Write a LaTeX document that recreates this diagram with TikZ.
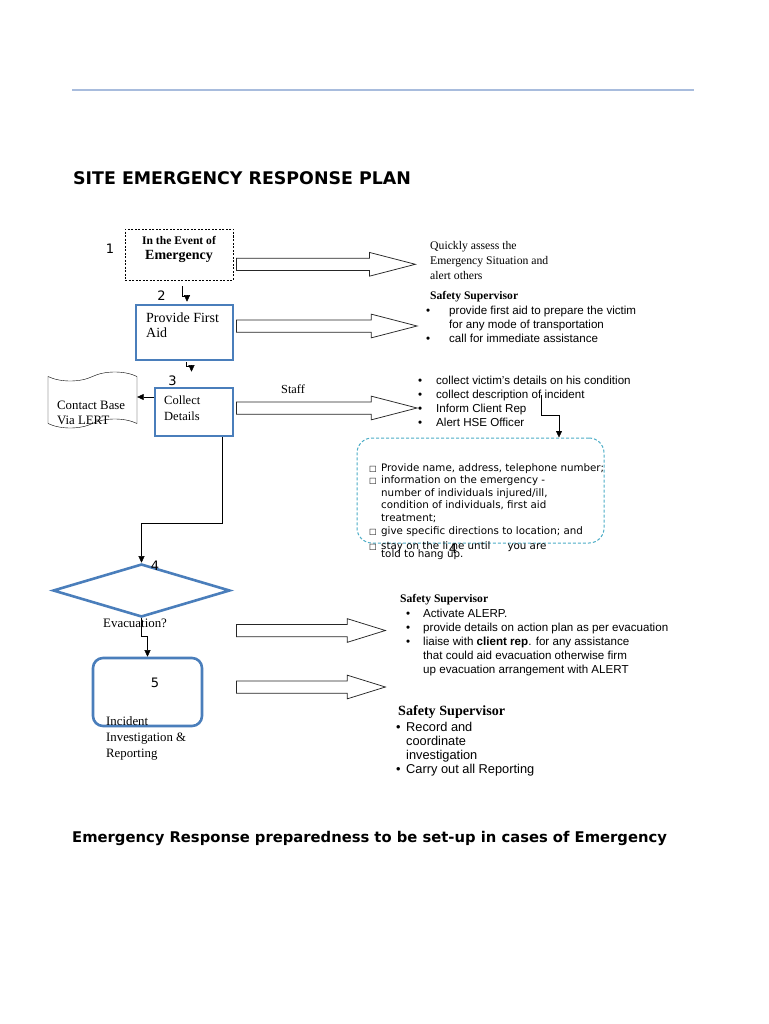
\documentclass[tikz,border=0pt]{standalone}
\usepackage{fontspec}
\setmainfont{Liberation Serif}
\setsansfont{Liberation Sans}
\newfontfamily\dejavu{DejaVu Sans}
\usetikzlibrary{arrows.meta}
\usetikzlibrary{shapes.geometric, shapes.symbols, shapes.arrows, positioning}
\definecolor{stepblue}{HTML}{4A7EBB}
\definecolor{notecyan}{HTML}{4BACC6}
\definecolor{ruleblue}{HTML}{A8BCDD}
\tikzset{
    stepbox/.style={draw=stepblue, line width=2.6pt, inner sep=0pt},
    fatarrow/.style={single arrow, draw=black!85, line width=0.75pt, fill=white, inner xsep=0pt, inner ysep=5.75pt,
        minimum width=23pt, single arrow head extend=5.75pt, single arrow head indent=0pt, anchor=tail},
    txt/.style={inner sep=0pt, anchor=base west},
    num/.style={inner sep=0pt, anchor=base, font=\dejavu\fontsize{13}{15}\selectfont},
}
\newcommand{\bul}[1]{\makebox[#1][l]{\textbullet}}
\newcommand{\sq}{\makebox[12pt][l]{\fontsize{8}{8}\selectfont □}}

\begin{document}
\begin{tikzpicture}[x=1pt, y=-1pt, >={Stealth[inset=0pt, length=6.5pt, width=6pt]}]
\useasboundingbox (0,0) rectangle (768,1024);

            % Header rule and title
            \draw[ruleblue, line width=1.5pt] (72,90) -- (694,90);
            \node[txt, font=\dejavu\bfseries\fontsize{17.4}{20}\selectfont] (title) at (73,185) {SITE EMERGENCY RESPONSE PLAN};

            % Step 1
            \node[draw, thin, dash pattern=on 2pt off 1.5pt, minimum width=108pt, minimum height=51pt, inner sep=0pt] (event) at (179,254.5) {};
            \node[inner sep=0pt, anchor=base, font=\bfseries\fontsize{11.6}{13}\selectfont] (eventa) at (179,244) {In the Event of};
            \node[inner sep=0pt, anchor=base, font=\bfseries\fontsize{14}{16}\selectfont] (eventb) at (179,259.5) {Emergency};
            \node[num] (one) at (110,253.5) {1};

            % Step 2
            \node[stepbox, minimum width=97pt, minimum height=55pt] (aid) at (184.5,332.5) {};
            \node[txt, font=\fontsize{14}{15}\selectfont] (aidtxt) at (146,322) {\begin{tabular}[t]{@{}l@{}}Provide First\\Aid\end{tabular}};
            \node[num] (two) at (161.5,300.5) {2};

            % Step 3
            \node[stepbox, minimum width=78pt, minimum height=48pt] (collect) at (194,412) {};
            \node[txt, font=\fontsize{12.5}{16}\selectfont] (collecttxt) at (164,404) {\begin{tabular}[t]{@{}l@{}}Collect\\Details\end{tabular}};
            \node[num] (three) at (172.5,385.5) {3};

            % Contact base
            \node[tape, draw, thin, minimum width=89pt, minimum height=56pt, tape bend height=9pt, inner sep=0pt] (base) at (92.5,400) {};
            \node[txt, font=\fontsize{12.8}{15}\selectfont] (basetxt) at (57,409) {\begin{tabular}[t]{@{}l@{}}Contact Base\\Via LERT\end{tabular}};

            % Step 4
            \node[diamond, draw=stepblue, line width=2.6pt, minimum width=177pt, minimum height=53pt, inner sep=0pt] (evac) at (141.5,590.5) {};
            \node[txt, font=\fontsize{12.9}{15}\selectfont] (evactxt) at (103,627) {Evacuation?};
            \node[num] (four) at (155,570) {4};

            % Step 5
            \node[stepbox, rounded corners=10pt, minimum width=109pt, minimum height=68pt] (report) at (147.5,692) {};
            \node[txt, font=\fontsize{12.8}{16}\selectfont] (reporttxt) at (106,725) {\begin{tabular}[t]{@{}l@{}}Incident\\Investigation \&\\Reporting\end{tabular}};
            \node[num] (five) at (155,687) {5};

            % Big arrows
            \node[fatarrow, minimum height=179pt, single arrow tip angle=29] (arr1) at (236,264.3) {};
            \node[fatarrow, minimum height=180.7pt, single arrow tip angle=29] (arr2) at (236,326) {};
            \node[fatarrow, minimum height=180.7pt, single arrow tip angle=29] (arr3) at (236,408) {};
            \node[fatarrow, minimum height=149pt, single arrow tip angle=34.5] (arr4) at (236,630.5) {};
            \node[fatarrow, minimum height=149pt, single arrow tip angle=34.5] (arr5) at (236,687) {};
            \node[txt, font=\fontsize{12.3}{14}\selectfont] (staff) at (281,393) {Staff};

            % Right hand notes
            \node[txt, font=\fontsize{11.7}{15}\selectfont] (assess) at (430,249) {\begin{tabular}[t]{@{}l@{}}Quickly assess the\\Emergency Situation and\\alert others\end{tabular}};

            \node[txt, font=\bfseries\fontsize{11.6}{14}\selectfont] (sup1) at (430,299) {Safety Supervisor};
            \node[txt, font=\sffamily\fontsize{11.6}{14}\selectfont] (sup1list) at (426,314) {\begin{tabular}[t]{@{}l@{}}\bul{23pt}provide first aid to prepare the victim\\
                \hspace*{23pt}for any mode of transportation\\
                \bul{23pt}call for immediate assistance\end{tabular}};

            \node[txt, font=\sffamily\fontsize{11.6}{14}\selectfont] (stafflist) at (418,384) {\begin{tabular}[t]{@{}l@{}}\bul{18pt}collect victim's details on his condition\\
                \bul{18pt}collect description of incident\\
                \bul{18pt}Inform Client Rep\\
                \bul{18pt}Alert HSE Officer\end{tabular}};
            \coordinate (mark) at (541,395);

            % Phone call note
            \node[draw=notecyan, line width=1pt, dash pattern=on 3pt off 2pt, rounded corners=15pt, minimum width=247pt, minimum height=105pt, inner sep=0pt] (call) at (480.5,490.5) {};
            \node[txt, font=\dejavu\fontsize{10.3}{12.6}\selectfont] (calltxt) at (369,471) {\begin{tabular}[t]{@{}l@{}}\sq Provide name, address, telephone number;\\
                \sq information on the emergency -\\
                \hspace*{12pt}number of individuals injured/ill,\\
                \hspace*{12pt}condition of individuals, first aid\\
                \hspace*{12pt}treatment;\\
                \sq give specific directions to location; and\\[2.4pt]
                \sq stay on the li ne until\hspace{17pt}you are\\[-4.6pt]
                \hspace*{12pt}told to hang up.\end{tabular}};
            \node[num] (fourb) at (453,553) {4};

            \node[txt, font=\bfseries\fontsize{11.6}{14}\selectfont] (sup2) at (400,602) {Safety Supervisor};
            \node[txt, font=\sffamily\fontsize{11.6}{14}\selectfont] (sup2list) at (406,617) {\begin{tabular}[t]{@{}l@{}}\bul{17pt}Activate ALERP.\\
                \bul{17pt}provide details on action plan as per evacuation\\
                \bul{17pt}liaise with \textbf{client rep}. for any assistance\\
                \hspace*{17pt}that could aid evacuation otherwise firm\\
                \hspace*{17pt}up evacuation arrangement with ALERT\end{tabular}};

            \node[txt, font=\bfseries\fontsize{14.1}{16}\selectfont] (sup3) at (398,715) {Safety Supervisor};
            \node[txt, font=\sffamily\fontsize{12.8}{14}\selectfont] (sup3list) at (395.8,731) {\begin{tabular}[t]{@{}l@{}}\bul{10.2pt}Record and\\
                \hspace*{10.2pt}coordinate\\
                \hspace*{10.2pt}investigation\\
                \bul{10.2pt}Carry out all Reporting\end{tabular}};

            % Footer
            \node[txt, font=\dejavu\bfseries\fontsize{14.77}{17}\selectfont] (footer) at (72,842) {Emergency Response preparedness to be set-up in cases of Emergency};

            % Flow connectors
            \draw[->] ([xshift=3pt,yshift=-6pt]event.south) -- ++(0,10) -| ([xshift=2.5pt,yshift=2pt]aid.north);
            \draw[->] ([xshift=1.5pt,yshift=-1pt]aid.south) -- ++(0,4) -| ([xshift=-2.5pt,yshift=15pt]collect.north);
            \draw[->] ([yshift=15pt]collect.west) -- ([yshift=15pt]collect.west -| base.east);
            \draw[->] ([xshift=28pt]collect.south) -- ++(0,86) -| (evac.north);
            \draw[->] (evac.south) -- ++(0,18) -| (report.north);
            \draw[->] (mark) -- ++(0,20) -| ([xshift=78.5pt]call.north);

        \end{tikzpicture}
\end{document}
